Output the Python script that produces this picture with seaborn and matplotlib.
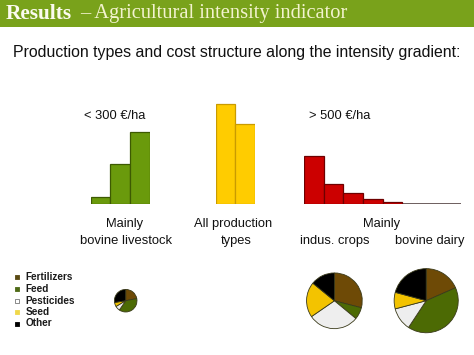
import matplotlib
matplotlib.use("Agg")
import matplotlib.pyplot as plt
from matplotlib.patches import Rectangle
import seaborn as sns
import pandas as pd

# histogram bars along the intensity gradient (relative share)
low_bins = ["b1", "b2", "b3"]
low_values = [7.6, 40.3, 72.6]
mid_bins = ["b1", "b2"]
mid_values = [100.6, 80.0]
high_bins = ["b1", "b2", "b3", "b4", "b5", "b6", "b7", "b8"]
high_values = [48.0, 20.0, 11.3, 5.3, 2.0, 0.0, 0.0, 0.0]

# cost structure (percent of costs)
cost_items = ["Fertilizers", "Feed", "Pesticides", "Seed", "Other"]
cost_low = [22, 37.5, 7, 6, 27.5]
cost_crops = [29, 7, 29.4, 20.5, 14.1]
cost_dairy = [18.4, 40.9, 11.6, 8.3, 20.8]
pie_colors = ["#6e4a06", "#4c6a04", "#eeeeee", "#f3c300", "#000000"]
legend_colors = ["#5a4a12", "#4e6a16", "#ffffff", "#f0d84a", "#000000"]

W, H = 474, 355
sns.set_style("white")
plt.rcParams["font.family"] = ["Liberation Sans", "DejaVu Sans"]

fig = plt.figure(figsize=(W / 100, H / 100), dpi=100)
renderer = fig.canvas.get_renderer()


def px_axes(x0, y0, x1, y1):
    # pixel box (origin top-left) -> figure axes
    return fig.add_axes([x0 / W, 1 - y1 / H, (x1 - x0) / W, (y1 - y0) / H])


def fit(t, width):
    # shrink/grow the font so the text spans the width seen in the slide
    w = t.get_window_extent(renderer=renderer).width
    t.set_fontsize(t.get_fontsize() * width / w)
    return t


# overlay axes in pixel coordinates for text and legend
over = fig.add_axes([0, 0, 1, 1])
over.set_xlim(0, W)
over.set_ylim(H, 0)
over.axis("off")
over.patch.set_alpha(0)

# header band
over.add_patch(Rectangle((0, 0), W, 27, color="#79a21b", lw=0))
fit(over.text(6, 13.8, "Results", family="Liberation Serif", weight="bold",
              fontsize=13, color="#fbfbee", va="center", ha="left"), 66)
fit(over.text(80, 13.8, "\u2013 Agricultural intensity indicator",
              family="Liberation Serif", fontsize=13, color="#f3f3cf",
              va="center", ha="left"), 267)

fit(over.text(13, 53, "Production types and cost structure along the intensity gradient:",
              fontsize=12, color="#111111", va="center", ha="left"), 449)

base = 204.3
top = base - 105
bar_w = 19.66


def draw_bars(x0, bins, values, face, edge, spine=False):
    ax = px_axes(x0, top, x0 + bar_w * len(bins), base)
    df = pd.DataFrame({"bin": bins, "value": values})
    sns.barplot(data=df, x="bin", y="value", ax=ax, color=face, saturation=1,
                width=1, edgecolor=edge, linewidth=0.9)
    ax.set_xlim(-0.5, len(bins) - 0.5)
    ax.set_ylim(0, 105)
    ax.set_axis_off()
    if spine:
        ax.axhline(0, color="#555555", lw=1.2, zorder=0)
    return ax


draw_bars(90.7, low_bins, low_values, "#6a9a0c", "#3d5a02")
draw_bars(215.7, mid_bins, mid_values, "#ffcc00", "#c99b00")
draw_bars(304.0, high_bins, high_values, "#cc0000", "#6e0000", spine=True)

lab = dict(fontsize=9.3, color="#111111", ha="center", va="center")
over.text(114.7, 116, "< 300 \u20ac/ha", **lab)
over.text(339.3, 116, "> 500 \u20ac/ha", **lab)
over.text(124.5, 224, "Mainly", **lab)
fit(over.text(125.8, 241, "bovine livestock", **lab), 91.7)
over.text(233.5, 224, "All production", **lab)
over.text(236, 241, "types", **lab)
over.text(382, 224, "Mainly", **lab)
over.text(334.7, 241, "indus. crops", **lab)
over.text(429.5, 241, "bovine dairy", **lab)

# legend
leg_y = [277.3, 289, 300.7, 312.3, 323.5]
for name, col, y in zip(cost_items, legend_colors, leg_y):
    over.scatter([16.7], [y], marker="s", s=9, color=col,
                 edgecolors="#777777" if col == "#ffffff" else col, linewidths=0.6)
    over.text(25.7, y, name, fontsize=7.2, weight="bold", color="#1a1a1a",
              ha="left", va="center")


def draw_pie(cx, cy, r, shares):
    ax = px_axes(cx - r, cy - r, cx + r, cy + r)
    ax.pie(shares, colors=pie_colors, startangle=90, counterclock=False, radius=1,
           wedgeprops=dict(edgecolor="#3a3a1a", linewidth=0.6))
    ax.set_xlim(-1.02, 1.02)
    ax.set_ylim(-1.02, 1.02)
    ax.set_aspect("equal")
    ax.axis("off")


draw_pie(125.7, 300.7, 11.5, cost_low)
draw_pie(334.4, 300.8, 28.4, cost_crops)
draw_pie(426.2, 300.7, 32.7, cost_dairy)

fig.savefig("out.png", dpi=100)
